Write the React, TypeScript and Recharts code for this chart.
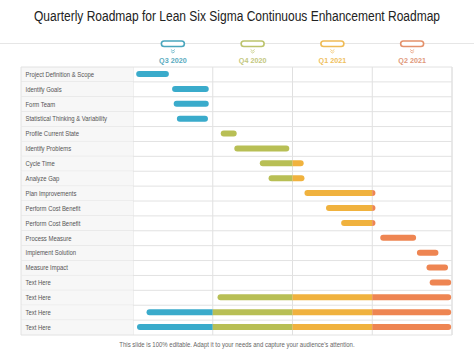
import React from 'react';
import { BarChart, Bar, XAxis, YAxis, CartesianGrid } from 'recharts';

const tasks = [
  'Project Definition & Scope',
  'Identify Goals',
  'Form Team',
  'Statistical Thinking & Variability',
  'Profile Current State',
  'Identify Problems',
  'Cycle Time',
  'Analyze Gap',
  'Plan Improvements',
  'Perform Cost Benefit',
  'Perform Cost Benefit',
  'Process Measure',
  'Implement Solution',
  'Measure Impact',
  'Text Here',
  'Text Here',
  'Text Here',
  'Text Here',
];

// positions in quarters from the start of Q3 2020
const starts = [0.04, 0.49, 0.51, 0.55, 1.1, 1.27, 1.59, 1.7, 2.15, 2.42, 2.61, 3.1, 3.56, 3.68, 3.72, 1.06, 0.17, 0.05];
const ends = [0.45, 0.95, 0.95, 0.94, 1.3, 1.96, 2.14, 2.15, 3.04, 3.04, 3.04, 3.55, 3.83, 3.95, 3.99, 3.99, 3.99, 3.99];

const quarters = ['Q3 2020', 'Q4 2020', 'Q1 2021', 'Q2 2021'];
const quarterTicks = [0, 1, 2, 3, 4];

const barColors = ['#3aabcb', '#b8bf55', '#f0b23e', '#ee8552'];
const pillColors = ['#4aa6bd', '#bcc36c', '#efbb55', '#e4916b'];
const labelColors = ['#5aabc0', '#c3c77e', '#efc05e', '#e0987a'];

const data = tasks.map((name, i) => {
  const row: any = { name, offset: starts[i], start: starts[i], end: ends[i] };
  quarters.forEach((_, q) => {
    row['q' + q] = Math.max(0, Math.min(ends[i], q + 1) - Math.max(starts[i], q));
  });
  return row;
});

const W = 474;
const H = 355;
const M = { top: 67, right: 22, bottom: 20, left: 21 };
const labelW = 112;
const plotL = M.left + labelW;
const plotR = W - M.right;
const plotT = M.top;
const plotB = H - M.bottom;
const qW = (plotR - plotL) / 4;
const band = (plotB - plotT) / tasks.length;

const FONT = '"Liberation Sans", Arial, sans-serif';
const NARROW = 0.87;

const Segment = (q: number) => (props: any) => {
  const { x, y, width, height, payload } = props;
  if (!width || width <= 0) return null;
  const r = height / 2;
  const roundL = payload.start >= q;
  const roundR = payload.end <= q + 1;
  const rl = roundL ? r : 0;
  const rr = roundR ? r : 0;
  const d = [
    `M${x + rl},${y}`,
    `L${x + width - rr},${y}`,
    rr ? `A${rr},${rr} 0 0 1 ${x + width - rr},${y + height}` : `L${x + width},${y}L${x + width},${y + height}`,
    `L${x + rl},${y + height}`,
    rl ? `A${rl},${rl} 0 0 1 ${x + rl},${y}` : `L${x},${y + height}L${x},${y}`,
    'Z',
  ].join(' ');
  return <path d={d} fill={barColors[q]} />;
};

const RowTick = (props: any) => {
  const { y, payload, index } = props;
  const top = y - band / 2;
  return (
    <g>
      <rect x={M.left} y={top} width={labelW} height={band} fill="#f7f7f7" />
      {index === 0 && <line x1={M.left} x2={plotR} y1={top} y2={top} stroke="#e2e2e2" strokeWidth={1} />}
      <line x1={M.left} x2={plotR} y1={top + band} y2={top + band} stroke="#e2e2e2" strokeWidth={1} />
      <line x1={M.left} x2={M.left} y1={top} y2={top + band} stroke="#e2e2e2" strokeWidth={1} />
      <line x1={plotR} x2={plotR} y1={top} y2={top + band} stroke="#e2e2e2" strokeWidth={1} />
      <text transform={`translate(${M.left + 4.5},${y + 2.3}) scale(${NARROW},1)`} fontSize={6.8} fill="#555" fontFamily={FONT}>
        {payload.value}
      </text>
    </g>
  );
};

export default function App() {
  return (
    <div style={{ position: 'absolute', left: 0, top: 0, width: W, height: H, background: '#fff' }}>
      <svg width={W} height={H} style={{ position: 'absolute', left: 0, top: 0 }}>
        <text transform={`translate(${W / 2},21) scale(${NARROW},1)`} textAnchor="middle" fontSize={13.8} fill="#222" fontFamily={FONT}>
          Quarterly Roadmap for Lean Six Sigma Continuous Enhancement Roadmap
        </text>
        <line x1={0} x2={W} y1={43.5} y2={43.5} stroke="#e6e6e6" strokeWidth={1} />
        {quarters.map((q, i) => {
          const cx = plotL + qW * (i + 0.5);
          return (
            <g key={q}>
              <rect x={cx - 11.5} y={41} width={23} height={5.5} rx={2.75} fill="#fff" stroke={pillColors[i]} strokeWidth={1.6} />
              <path d={`M${cx - 2},${49.5} L${cx},${51} L${cx + 2},${49.5} M${cx - 2},${51.5} L${cx},${53} L${cx + 2},${51.5}`} fill="none" stroke={pillColors[i]} strokeWidth={0.7} />
              <text x={cx} y={63} textAnchor="middle" fontSize={7.2} fontWeight="bold" fill={labelColors[i]} fontFamily={FONT}>
                {q}
              </text>
            </g>
          );
        })}
        <text transform={`translate(237,347) scale(${NARROW},1)`} textAnchor="middle" fontSize={6.9} fill="#666" fontFamily={FONT}>
          This slide is 100% editable. Adapt it to your needs and capture your audience's attention.
        </text>
      </svg>
      <div style={{ position: 'absolute', left: 0, top: 0 }}>
        <BarChart width={W} height={H} data={data} layout="vertical" margin={M} barCategoryGap={0}>
          <CartesianGrid horizontal={false} stroke="#e0e0e0" strokeDasharray="" />
          <XAxis type="number" domain={[0, 4]} ticks={quarterTicks} hide />
          <YAxis type="category" dataKey="name" width={labelW} axisLine={false} tickLine={false} tick={<RowTick />} interval={0} />
          <Bar dataKey="offset" stackId="a" fill="transparent" barSize={6} isAnimationActive={false} />
          {quarters.map((_, q) => (
            <Bar key={q} dataKey={'q' + q} stackId="a" barSize={6} shape={Segment(q)} isAnimationActive={false} />
          ))}
        </BarChart>
      </div>
    </div>
  );
}
